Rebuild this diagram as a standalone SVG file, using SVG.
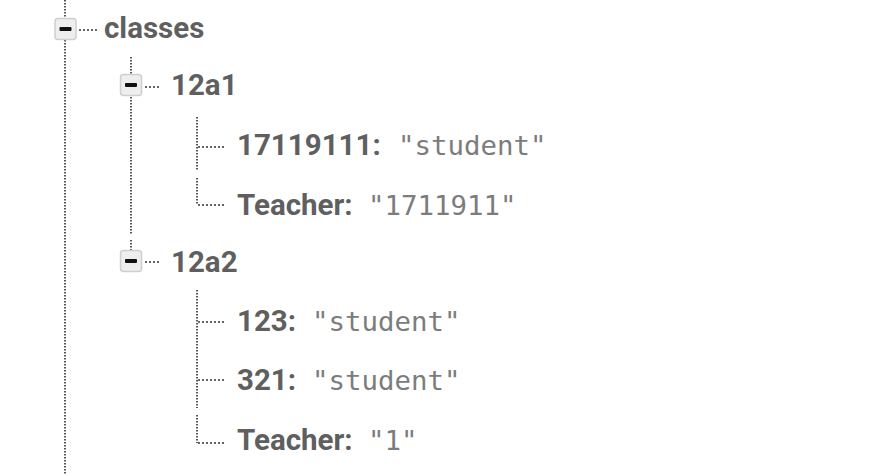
<svg xmlns="http://www.w3.org/2000/svg" width="896" height="474" viewBox="0 0 896 474">
<style>
.k{font-family:Roboto,"Liberation Sans",sans-serif;font-weight:700;font-size:29.5px;fill:#5f5f5f}
.v{font-family:"DejaVu Sans Mono","Liberation Mono",monospace;font-size:27.4px;fill:#7c7c7c}
.vl{stroke:#555;stroke-width:2;stroke-dasharray:1.5 1.5;fill:none}
.hl{stroke:#666;stroke-width:2;stroke-dasharray:2 2;fill:none}
.box{fill:#eeeeee;stroke:#cfcfcf;stroke-width:1.5}
.bar{fill:#111}
</style>
<rect width="896" height="474" fill="#fff"/>
<g id="connectors">
<line class="vl" x1="65" y1="0" x2="65" y2="18"/>
<line class="vl" x1="65" y1="40" x2="65" y2="474"/>
<line class="hl" x1="79" y1="30" x2="97" y2="30"/>
<line class="vl" x1="131" y1="57" x2="131" y2="74"/>
<line class="vl" x1="131" y1="97" x2="131" y2="234"/>
<line class="hl" x1="145" y1="87" x2="161" y2="87"/>
<line class="vl" x1="131" y1="240" x2="131" y2="250"/>
<line class="hl" x1="145" y1="262" x2="161" y2="262"/>
<line class="vl" x1="197" y1="117" x2="197" y2="170"/>
<line class="hl" x1="198" y1="147" x2="226" y2="147"/>
<line class="vl" x1="197" y1="178" x2="197" y2="205"/>
<line class="hl" x1="198" y1="205" x2="226" y2="205"/>
<line class="vl" x1="197" y1="290" x2="197" y2="408"/>
<line class="hl" x1="198" y1="322" x2="226" y2="322"/>
<line class="hl" x1="198" y1="380" x2="226" y2="380"/>
<line class="vl" x1="197" y1="415" x2="197" y2="443"/>
<line class="hl" x1="198" y1="443" x2="226" y2="443"/>
</g>
<g id="classes">
<rect class="box" x="55" y="18.5" width="21" height="21" rx="3"/>
<rect class="bar" x="59.5" y="27" width="12" height="4" rx="1"/>
<text class="k" x="104" y="38">classes</text>
</g>
<g id="n12a1">
<rect class="box" x="120.5" y="74.5" width="21" height="21" rx="3"/>
<rect class="bar" x="125" y="83" width="12" height="4" rx="1"/>
<text class="k" x="171" y="95">12a1</text>
</g>
<g id="n17119111">
<text class="k" x="237" y="155">17119111:</text>
<text class="v" x="398" y="155">"student"</text>
</g>
<g id="teacher1">
<text class="k" x="237" y="215">Teacher:</text>
<text class="v" x="368" y="215">"1711911"</text>
</g>
<g id="n12a2">
<rect class="box" x="120.5" y="250.5" width="21" height="21" rx="3"/>
<rect class="bar" x="125" y="259" width="12" height="4" rx="1"/>
<text class="k" x="171" y="272">12a2</text>
</g>
<g id="n123">
<text class="k" x="237" y="331">123:</text>
<text class="v" x="312" y="331">"student"</text>
</g>
<g id="n321">
<text class="k" x="237" y="390">321:</text>
<text class="v" x="312" y="390">"student"</text>
</g>
<g id="teacher2">
<text class="k" x="237" y="450">Teacher:</text>
<text class="v" x="368" y="450">"1"</text>
</g>
</svg>
